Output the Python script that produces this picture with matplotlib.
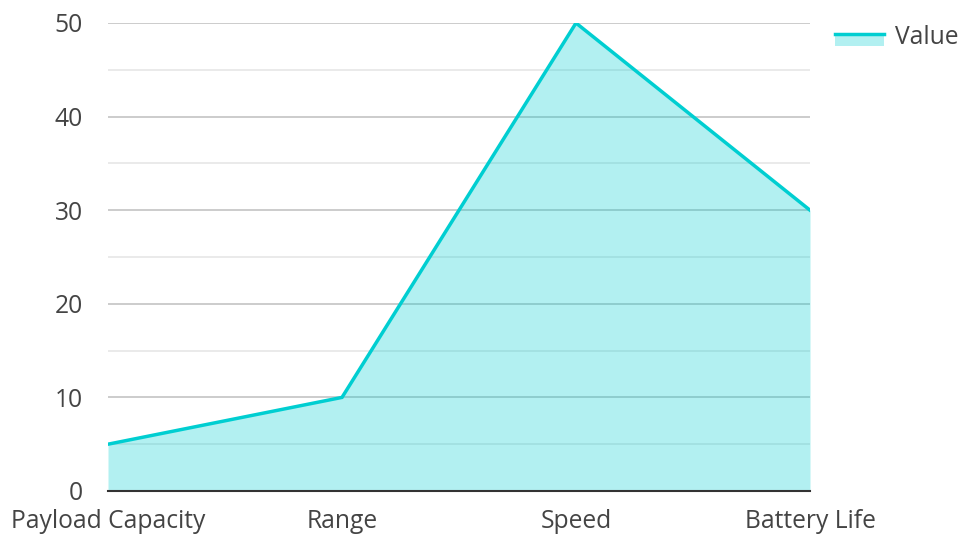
import matplotlib
matplotlib.use("Agg")
import matplotlib.pyplot as plt
from matplotlib.legend_handler import HandlerBase
from matplotlib.patches import Rectangle
from matplotlib.lines import Line2D

plt.rcParams['font.family'] = ['Open Sans', 'DejaVu Sans']

categories = ["Payload Capacity", "Range", "Speed", "Battery Life"]
values = [5, 10, 50, 30]
series_name = "Value"

line_color = "#00CED1"
fill_color = "#00CED1"
FS = 17.7

fig = plt.figure(figsize=(9.59, 5.34), dpi=100)
W, H = 959, 534
ax = fig.add_axes([108 / W, (H - 491) / H, (810 - 108) / W, (491 - 23) / H])

x = list(range(len(categories)))
ax.fill_between(x, values, 0, color=fill_color, alpha=0.3, linewidth=0, zorder=2)
ax.plot(x, values, color=line_color, linewidth=2.5, zorder=3, solid_joinstyle='miter')

ax.set_xlim(0, len(categories) - 1)
ax.set_ylim(0, 50)
ax.set_yticks([0, 10, 20, 30, 40, 50])
ax.set_yticks([5, 15, 25, 35, 45], minor=True)
ax.set_axisbelow(True)
ax.grid(axis='y', which='major', color='#c8c8c8', linewidth=1.3)
ax.grid(axis='y', which='minor', color='#e8e8e8', linewidth=1.3)
ax.set_xticks(x)
ax.set_xticklabels(categories)
for s in ['top', 'right', 'left']:
    ax.spines[s].set_visible(False)
ax.spines['bottom'].set_color('#333333')
ax.spines['bottom'].set_linewidth(1.5)
ax.spines['bottom'].set_zorder(4)
ax.tick_params(axis='both', which='both', length=0, labelsize=FS, colors='#444444')
ax.tick_params(axis='y', pad=18)
ax.tick_params(axis='x', pad=13)
for lbl in ax.get_xticklabels():
    lbl.set_clip_on(False)


class AreaHandler(HandlerBase):
    def create_artists(self, legend, orig_handle, xdescent, ydescent, width, height, fontsize, trans):
        rect = Rectangle((-xdescent, -ydescent - height * 0.1), width, height * 0.7,
                         facecolor=fill_color, alpha=0.3, edgecolor='none', transform=trans)
        ln = Line2D([-xdescent, -xdescent + width], [-ydescent + height * 0.6] * 2,
                    color=line_color, linewidth=2.5, transform=trans)
        return [rect, ln]


proxy = Rectangle((0, 0), 1, 1)
leg = fig.legend([proxy], [series_name], handler_map={Rectangle: AreaHandler()},
                 loc='upper left', bbox_to_anchor=(835 / W, 1 - 25 / H),
                 frameon=False, fontsize=FS, handlelength=2.0, handletextpad=0.45,
                 borderaxespad=0, borderpad=0)
for t in leg.get_texts():
    t.set_color('#444444')

fig.savefig("out.png", dpi=100)
